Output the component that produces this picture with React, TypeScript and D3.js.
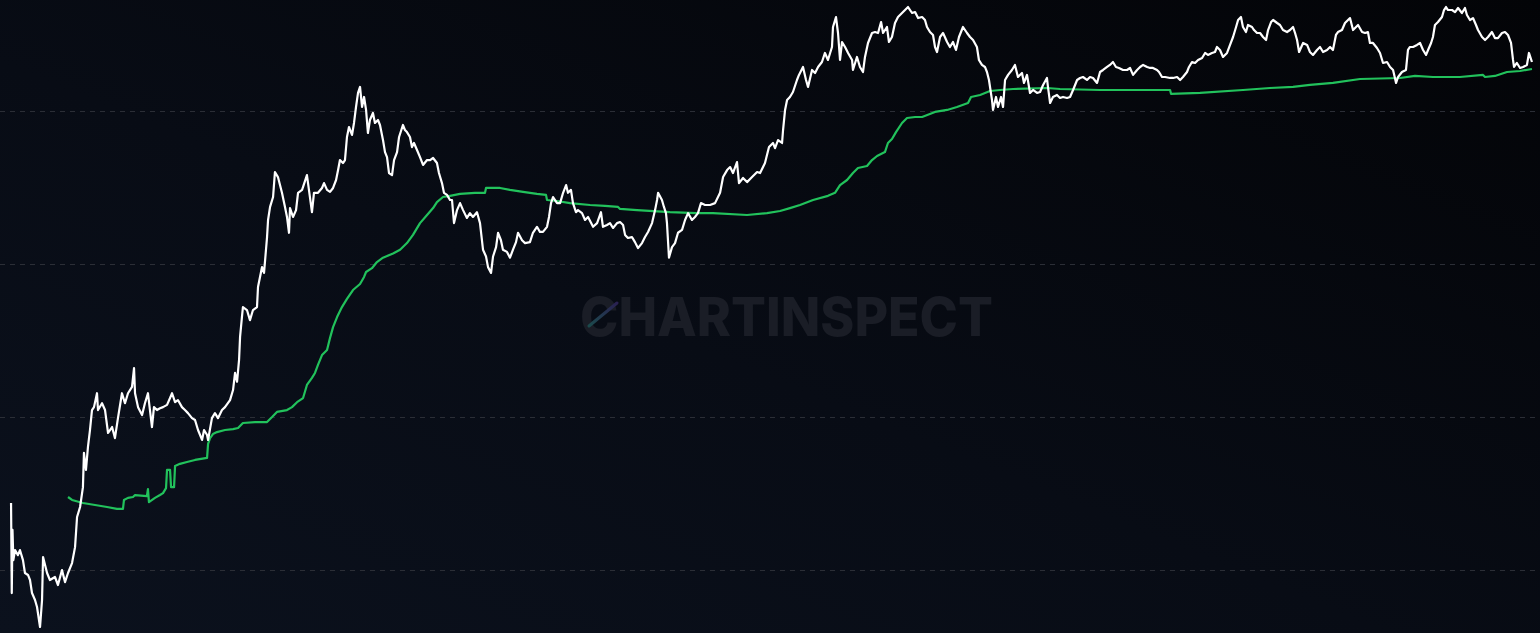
import React from "react";
import * as d3 from "d3";

const W = 1540;
const H = 633;

// log-scale grid ticks (USD)
const gridTicks = [1, 10, 100, 1000];

// ETH price [decimal year, USD]
const ethPrice: [number, number][] = [
[2015.604,2.74],[2015.609,0.707],[2015.614,1.83],[2015.620,1.16],[2015.632,1.35],[2015.652,1.25],[2015.666,1.35],[2015.687,1.16],[2015.701,0.956],[2015.722,0.928],[2015.736,0.86],[2015.750,0.707],[2015.771,0.637],[2015.785,0.573],[2015.806,0.424],[2015.820,0.637],[2015.827,1.215],[2015.855,0.956],[2015.875,0.86],[2015.910,0.90],[2015.931,0.798],[2015.959,1.0],[2015.980,0.834],[2016.001,0.956],[2016.029,1.11],[2016.050,1.41],[2016.064,2.22],[2016.085,2.58],[2016.105,3.48],[2016.112,5.82],[2016.126,4.51],[2016.140,6.37],[2016.154,8.22],[2016.168,11.1],[2016.182,11.6],[2016.203,14.3],[2016.210,11.1],[2016.238,12.3],[2016.259,11.1],[2016.280,7.86],[2016.308,8.60],[2016.328,7.28],[2016.349,9.83],[2016.377,14.3],[2016.398,12.3],[2016.419,14.3],[2016.447,15.75],[2016.461,20.9],[2016.468,14.3],[2016.489,11.6],[2016.517,10.3],[2016.537,12.3],[2016.558,14.3],[2016.586,8.60],[2016.600,11.6],[2016.621,11.1],[2016.642,11.4],[2016.663,11.6],[2016.691,12.0],[2016.712,13.3],[2016.726,14.3],[2016.747,12.5],[2016.767,12.9],[2016.795,11.6],[2016.816,11.1],[2016.837,10.6],[2016.865,9.83],[2016.886,9.56],[2016.907,8.22],[2016.935,7.08],[2016.949,8.22],[2016.970,7.63],[2016.977,7.08],[2017.004,9.83],[2017.025,10.6],[2017.046,9.83],[2017.074,11.1],[2017.095,11.6],[2017.130,12.9],[2017.151,15.0],[2017.165,19.4],[2017.179,17.0],[2017.193,23.6],
[2017.200,33.4],[2017.213,45.0],[2017.220,52.3],[2017.248,50.0],[2017.269,43.0],[2017.290,50.0],[2017.318,52.3],[2017.325,70.7],[2017.353,95.6],[2017.367,87.4],[2017.388,150],[2017.395,194],[2017.409,236],[2017.430,274],[2017.443,399],[2017.464,370],[2017.492,292],[2017.513,236],[2017.527,203],[2017.541,160],[2017.548,232],[2017.569,203],[2017.590,225],[2017.604,292],[2017.632,305],[2017.639,319],[2017.666,381],[2017.680,305],[2017.701,218],[2017.715,292],[2017.743,292],[2017.771,314],[2017.785,338],[2017.806,305],[2017.827,296],[2017.848,314],[2017.869,354],[2017.883,411],[2017.896,478],[2017.917,457],[2017.931,478],[2017.945,676],[2017.959,786],[2017.980,697],[2017.994,835],[2018.008,1062],[2018.022,1312],[2018.036,1436],[2018.050,1062],[2018.064,1235],[2018.078,1016],[2018.091,718],[2018.105,873],[2018.126,971],[2018.140,835],[2018.161,873],[2018.175,810],[2018.196,646],[2018.210,539],[2018.224,500],[2018.238,393],[2018.259,381],[2018.273,478],[2018.294,539],[2018.308,676],[2018.335,810],[2018.349,751],[2018.363,728],[2018.384,676],[2018.398,581],[2018.412,618],[2018.433,556],[2018.454,500],[2018.475,444],[2018.503,478],[2018.524,478],[2018.545,493],[2018.572,457],[2018.586,393],[2018.607,338],[2018.621,292],[2018.642,283],[2018.663,262],[2018.677,262],[2018.691,185],[2018.712,225],[2018.733,250],[2018.754,225],[2018.781,200],[2018.802,215],[2018.823,203],[2018.851,218],[2018.872,185],[2018.893,124],[2018.914,112],[2018.928,95.4],[2018.949,87.4],[2018.963,112],[2018.984,129],[2018.998,160],[2019.018,143],[2019.032,124],[2019.060,120],[2019.081,110],[2019.102,124],[2019.123,139],[2019.137,160],[2019.165,143],[2019.186,137],[2019.220,139],[2019.241,160],[2019.269,175],[2019.290,162],[2019.311,162],[2019.339,175],[2019.353,203],[2019.367,250],[2019.381,274],[2019.409,250],[2019.430,250],[2019.451,292],[2019.472,328],[2019.485,292],[2019.506,305],[2019.520,250],[2019.541,218],[2019.555,225],[2019.583,215],[2019.604,194],[2019.625,203],[2019.660,175],[2019.688,185],[2019.715,218],[2019.729,175],[2019.757,180],[2019.778,185],[2019.799,172],[2019.827,185],[2019.848,188],[2019.869,180],[2019.883,155],[2019.903,148],[2019.931,150],[2019.952,139],[2019.973,127],[2020.001,137],[2020.022,150],[2020.043,162],[2020.071,185],[2020.092,225],[2020.106,262],[2020.113,292],[2020.140,262],[2020.154,236],[2020.168,215],[2020.175,185],[2020.189,110],[2020.210,129],[2020.231,137],[2020.252,160],[2020.280,167],[2020.301,194],[2020.322,215],[2020.349,194],[2020.370,203],[2020.391,215],[2020.412,250],[2020.440,243],[2020.475,243],[2020.510,250],[2020.545,292],
[2020.566,370],[2020.594,411],[2020.615,430],[2020.635,393],[2020.663,464],[2020.677,338],[2020.705,365],[2020.733,343],[2020.768,370],[2020.803,399],[2020.824,393],[2020.858,457],[2020.886,581],[2020.914,618],[2020.928,572],[2020.949,646],[2020.977,618],[2020.984,751],[2020.998,1016],[2021.012,1180],[2021.032,1235],[2021.053,1331],[2021.081,1595],[2021.095,1721],[2021.123,1940],[2021.144,1595],[2021.158,1436],[2021.186,1854],[2021.207,1772],[2021.228,1940],[2021.255,2090],[2021.276,2395],[2021.297,2155],[2021.325,2621],[2021.332,3540],[2021.353,4114],[2021.367,3234],[2021.381,2155],[2021.395,2825],[2021.416,2621],[2021.437,2395],[2021.465,2155],[2021.471,1854],[2021.499,2255],[2021.520,1940],[2021.541,1798],[2021.555,2255],[2021.576,2784],[2021.604,3234],[2021.625,3282],[2021.646,3234],[2021.667,3815],[2021.681,3234],[2021.708,3540],[2021.722,2825],[2021.743,3045],[2021.764,3760],[2021.785,4114],[2021.813,4370],[2021.834,4571],[2021.855,4782],[2021.883,4370],[2021.904,4434],[2021.925,4050],[2021.953,4114],[2021.973,3933],[2021.987,3540],[2022.008,3282],[2022.029,3139],[2022.043,2621],[2022.057,2430],[2022.078,3045],[2022.099,3234],[2022.127,2825],[2022.147,2621],[2022.168,2825],[2022.189,2505],[2022.210,3045],[2022.238,3540],[2022.266,3234],[2022.287,3045],[2022.308,2912],[2022.335,2621],[2022.349,2155],[2022.370,2000],[2022.391,1940],[2022.405,1798],[2022.419,1595],[2022.440,1180],[2022.447,1016],[2022.468,1235],[2022.482,1062],[2022.503,1235],[2022.517,1062],[2022.531,1595],[2022.552,1721],[2022.579,1854],[2022.600,2000],[2022.621,1668],[2022.649,1772],[2022.663,1525],[2022.684,1721],[2022.705,1312],[2022.726,1372],[2022.754,1312],[2022.775,1331],[2022.796,1480],[2022.823,1644],[2022.830,1436],[2022.845,1128],[2022.865,1235],[2022.893,1273],[2022.914,1216],[2022.935,1235],[2022.963,1216],[2022.984,1235],[2023.005,1372],[2023.033,1595],[2023.054,1644],[2023.074,1668],[2023.102,1595],[2023.123,1668],[2023.144,1644],[2023.172,1525],[2023.193,1798],[2023.214,1854],[2023.242,1940],[2023.262,2000],[2023.283,2090],[2023.304,1940],[2023.325,1911],[2023.353,1854],[2023.381,1854],[2023.402,1911],[2023.423,1721],[2023.451,1854],[2023.472,1940],[2023.493,2000],[2023.521,1940],[2023.542,1911],[2023.562,1911],[2023.590,1854],[2023.604,1798],[2023.625,1668],[2023.646,1668],[2023.681,1644],[2023.702,1644],[2023.730,1668],[2023.751,1595],[2023.771,1668],[2023.799,1798],[2023.813,1940],[2023.834,2090],[2023.855,2060],[2023.876,2155],[2023.904,2221],[2023.925,2395],[2023.945,2325],[2023.973,2395],[2023.994,2430],[2024.008,2621],[2024.029,2505],[2024.050,2255],[2024.078,2395],[2024.099,2702],[2024.120,3045],[2024.141,3540],[2024.155,3933],[2024.175,4114],[2024.189,3540],[2024.210,3282],[2024.224,3650],[2024.252,3540],[2024.266,3383],[2024.287,3234],[2024.308,3234],[2024.329,3045],[2024.350,2912],[2024.364,3383],[2024.385,3815],[2024.399,3933],[2024.427,3760],[2024.447,3650],[2024.468,3383],[2024.496,3282],[2024.517,3383],[2024.538,3540],[2024.552,3234],[2024.566,2912],[2024.580,2430],[2024.608,2784],[2024.636,2702],[2024.656,2430],[2024.677,2325],[2024.705,2505],[2024.726,2621],[2024.747,2430],[2024.775,2505],[2024.796,2621],[2024.816,2505],[2024.837,3139],[2024.851,3282],[2024.879,3383],[2024.900,3760],[2024.921,3933],[2024.935,4050],[2024.956,3383],[2024.970,3487],[2024.991,3650],[2025.019,3282],[2025.040,3234],[2025.060,3282],[2025.074,2784],[2025.095,2784],[2025.123,2582],[2025.144,2395],[2025.165,2060],[2025.193,2090],[2025.214,1940],[2025.235,1854],[2025.256,1525],[2025.270,1668],[2025.297,1798],[2025.325,1854],[2025.339,2505],[2025.353,2621],[2025.374,2621],[2025.402,2702],[2025.423,2784],[2025.444,2505],[2025.465,2325],[2025.479,2505],[2025.500,2784],[2025.513,3045],[2025.527,3650],[2025.548,3815],[2025.576,4114],[2025.590,4571],[2025.604,4782],[2025.618,4571],[2025.646,4571],[2025.667,4434],[2025.688,4711],[2025.715,4370],[2025.736,4711],[2025.750,4242],[2025.771,3933],[2025.792,4050],[2025.813,3650],[2025.827,3383],[2025.855,3045],[2025.876,2912],[2025.897,3045],[2025.924,3282],[2025.945,2997],[2025.966,2997],[2025.994,3234],[2026.015,3282],[2026.036,3139],[2026.057,2784],[2026.071,2155],[2026.078,1940],[2026.098,2060],[2026.120,1911],[2026.141,1940],[2026.168,2000],[2026.182,2395],[2026.203,2090]
];

// Realized price [decimal year, USD]
const realizedPrice: [number, number][] = [
[2016.001,3.0],[2016.029,2.87],[2016.105,2.74],[2016.189,2.66],[2016.273,2.58],[2016.342,2.51],[2016.384,2.51],[2016.391,2.87],[2016.419,2.96],[2016.454,3.0],[2016.468,3.09],[2016.551,3.04],[2016.558,3.38],[2016.565,2.78],[2016.607,2.96],[2016.642,3.09],[2016.663,3.18],[2016.684,3.43],[2016.691,4.51],[2016.712,4.51],[2016.719,3.48],[2016.740,3.48],[2016.747,4.79],[2016.781,4.94],[2016.830,5.08],[2016.886,5.24],[2016.970,5.40],[2016.977,6.67],[2016.991,7.28],[2017.011,7.74],[2017.039,7.97],[2017.095,8.22],[2017.151,8.34],[2017.186,8.47],[2017.220,9.14],[2017.304,9.27],[2017.388,9.27],[2017.423,10.0],[2017.457,10.8],[2017.527,11.1],[2017.562,11.6],[2017.597,12.5],[2017.639,13.3],[2017.666,16.2],[2017.701,18.0],[2017.722,19.4],[2017.743,21.9],[2017.771,25.4],[2017.806,27.4],[2017.827,32.9],[2017.848,38.7],[2017.876,45.0],[2017.910,52.3],[2017.945,59.1],[2017.987,67.6],[2018.036,74.0],[2018.064,82.3],[2018.078,88.7],[2018.119,93.9],[2018.154,103],[2018.196,110],[2018.266,117],[2018.315,124],[2018.363,137],[2018.405,155],[2018.454,185],[2018.503,209],[2018.545,232],[2018.572,254],[2018.614,274],[2018.663,279],[2018.733,287],[2018.837,292],[2018.907,292],[2018.914,314],[2019.012,314],[2019.081,305],[2019.172,296],[2019.269,287],[2019.332,283],[2019.339,262],[2019.409,258],[2019.499,250],[2019.639,243],[2019.743,240],[2019.834,236],[2019.848,229],[2019.966,225],[2020.196,218],[2020.384,215],[2020.496,215],[2020.733,209],[2020.872,215],[2020.963,222],[2021.032,232],[2021.102,243],[2021.193,262],[2021.297,279],[2021.346,292],[2021.381,328],[2021.430,354],[2021.471,393],[2021.506,424],[2021.569,437],[2021.604,478],[2021.639,508],[2021.694,539],[2021.715,618],[2021.743,656],[2021.771,728],[2021.813,835],[2021.848,900],[2021.904,914],[2021.953,914],[2022.043,986],[2022.127,1016],[2022.196,1062],[2022.273,1128],[2022.294,1235],[2022.357,1273],[2022.426,1351],[2022.496,1372],[2022.587,1393],[2022.823,1414],[2022.914,1393],[2023.193,1372],[2023.681,1372],[2023.688,1293],[2023.890,1312],[2024.189,1372],[2024.378,1414],[2024.538,1436],[2024.656,1480],[2024.816,1525],[2025.005,1619],[2025.284,1643],[2025.388,1695],[2025.513,1668],[2025.701,1668],[2025.862,1721],[2025.876,1668],[2025.945,1695],[2026.029,1798],[2026.120,1826],[2026.203,1882]
];

const xDomain: [number, number] = [2015.527, 2026.259];

export default function App() {
  const x = d3.scaleLinear().domain(xDomain).range([0, W]);
  const y = d3.scaleLog().domain([1, 1000]).range([570, 111]);

  const line = d3
    .line<[number, number]>()
    .x((d) => x(d[0]))
    .y((d) => y(d[1]))
    .curve(d3.curveLinear);

  return (
    <svg
      width={W}
      height={H}
      style={{ position: "absolute", left: 0, top: 0, display: "block" }}
    >
      <defs>
        <linearGradient id="bg" x1="0" y1="1" x2="1" y2="0">
          <stop offset="0" stopColor="#0b111d" />
          <stop offset="0.45" stopColor="#080c15" />
          <stop offset="1" stopColor="#030407" />
        </linearGradient>
        <linearGradient id="swoosh" x1="0" y1="1" x2="1" y2="0">
          <stop offset="0" stopColor="#1b4a4c" />
          <stop offset="1" stopColor="#2a2152" />
        </linearGradient>
      </defs>
      <rect x={0} y={0} width={W} height={H} fill="url(#bg)" />

      {gridTicks.map((t) => (
        <line
          key={t}
          x1={0}
          x2={W}
          y1={Math.round(y(t)) + 0.5}
          y2={Math.round(y(t)) + 0.5}
          stroke="#2b2e36"
          strokeWidth={1}
          strokeDasharray="5 5"
        />
      ))}

      <g>
        <text
          x={580}
          y={336}
          fontFamily="Inter, 'Open Sans', sans-serif"
          fontWeight={800}
          fontSize={54}
          fill="#1a1d26"
          textLength={413}
          lengthAdjust="spacingAndGlyphs"
        >
          CHARTINSPECT
        </text>
        <path
          d="M589,326 L617,303"
          stroke="url(#swoosh)"
          strokeWidth={3}
          strokeLinecap="round"
          fill="none"
        />
      </g>

      <path
        d={line(realizedPrice) || ""}
        fill="none"
        stroke="#22c25c"
        strokeWidth={2.2}
        strokeLinejoin="round"
      />
      <path
        d={line(ethPrice) || ""}
        fill="none"
        stroke="#ffffff"
        strokeWidth={2.2}
        strokeLinejoin="round"
      />
    </svg>
  );
}
